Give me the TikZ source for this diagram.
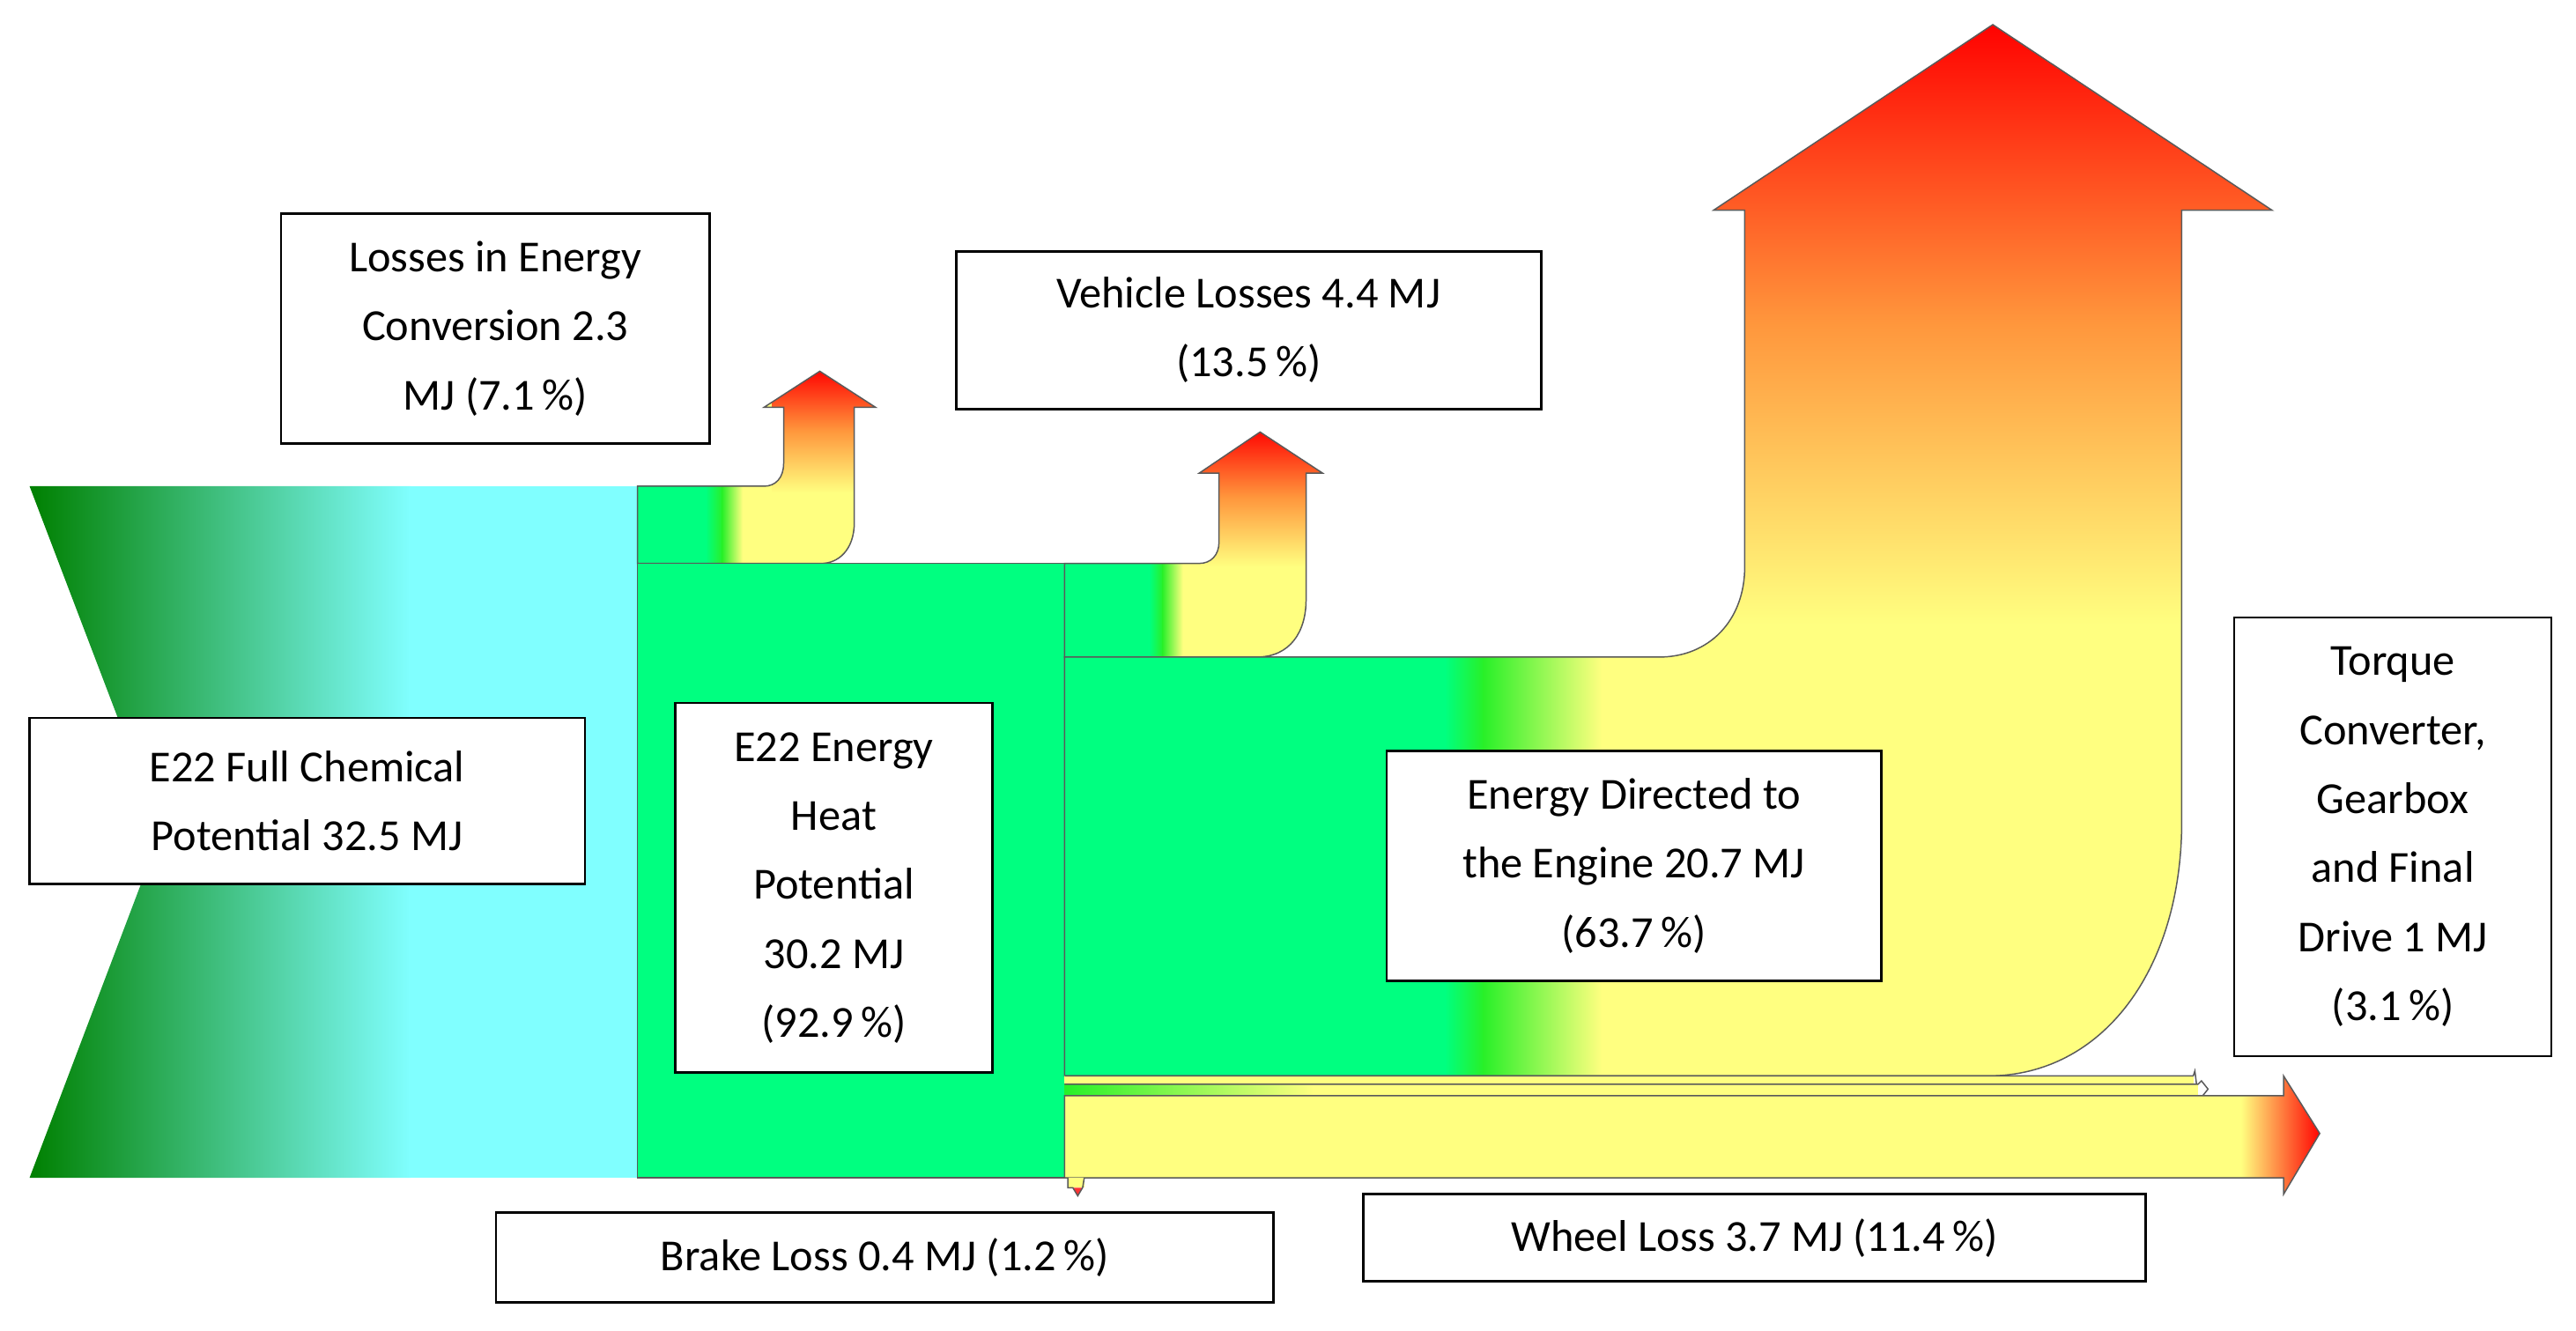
\documentclass[tikz,border=0pt]{standalone}
\usepackage{fontspec}
\setmainfont{Carlito}
\definecolor{dgreen}{RGB}{0,128,0}
\definecolor{cyanf}{RGB}{128,255,255}
\definecolor{mgreen}{RGB}{0,255,128}
\definecolor{lime}{RGB}{40,240,40}
\definecolor{yel}{RGB}{255,255,128}
\definecolor{org}{RGB}{255,150,60}
\definecolor{edge}{RGB}{90,90,90}
\begin{document}
\begin{tikzpicture}[x=1pt,y=-1pt,
  lbl/.style={draw=black,line width=1.4pt,fill=white,align=center,font=\fontsize{27}{42}\selectfont,inner sep=2pt},
  flowedge/.style={draw=edge,line width=0.8pt}]
\useasboundingbox (0,0) rectangle (1568,810);
% input chevron
\shade[left color=dgreen,right color=cyanf] (18,296) -- (250,296) -- (250,717) -- (18,717) -- (98,506) -- cycle;
\fill[cyanf] (249,296) rectangle (388,717);
% arrow 1
\def\aone{(388,296) -- (465,296) .. controls (472,296) and (477,291) .. (477,282) -- (477,248) -- (465,248) -- (499,226) -- (533,248) -- (520,248) -- (520,318) .. controls (520,335) and (510,343) .. (500,343) -- (388,343) -- cycle}
\begin{scope}\clip \aone;
\fill[yel] (380,220) rectangle (540,350);
\fill[mgreen] (380,290) rectangle (430,350);
\shade[left color=mgreen,right color=lime] (429.5,290) rectangle (440,350);
\shade[left color=lime,right color=yel] (439.5,290) rectangle (452,350);
\shade[top color=red,bottom color=yel,middle color=org] (470,224) rectangle (540,300);
\end{scope}
\draw[flowedge] \aone;
% main green box
\fill[mgreen] (388,343) rectangle (648,717);
\draw[flowedge] (388,343) rectangle (648,717);
% arrow 2
\def\atwo{(648,343) -- (730,343) .. controls (737,343) and (742,338) .. (742,330) -- (742,288) -- (730,288) -- (767,263) -- (805,288) -- (795,288) -- (795,365) .. controls (795,385) and (785,400) .. (765,400) -- (648,400) -- cycle}
\begin{scope}\clip \atwo;
\fill[yel] (640,255) rectangle (810,405);
\fill[mgreen] (640,335) rectangle (700,405);
\shade[left color=mgreen,right color=lime] (699.5,335) rectangle (708,405);
\shade[left color=lime,right color=yel] (707.5,335) rectangle (720,405);
\shade[top color=red,bottom color=yel,middle color=org] (725,260) rectangle (810,345);
\end{scope}
\draw[flowedge] \atwo;
% big arrow
\def\abig{(648,400) -- (1010,400) .. controls (1040,400) and (1062,378) .. (1062,345) -- (1062,128) -- (1043,128) -- (1213,15) -- (1383,128) -- (1328,128) -- (1328,500) .. controls (1328,590) and (1280,655) .. (1210,655) -- (648,655) -- cycle}
\begin{scope}\clip \abig;
\fill[yel] (640,10) rectangle (1390,660);
\fill[mgreen] (640,390) rectangle (880,660);
\shade[left color=mgreen,right color=lime] (879.5,390) rectangle (903,660);
\shade[left color=lime,right color=yel] (902.5,390) rectangle (975,660);
\shade[top color=red,bottom color=yel,middle color=org] (1030,12) rectangle (1390,380);
\end{scope}
\draw[flowedge] \abig;
% thin strips
\fill[yel] (648,655) rectangle (1335,660);
\draw[flowedge] (648,655) -- (1335,655) -- (1336,652) -- (1337,660) -- (648,660);
\shade[left color=lime,right color=yel] (648,660) rectangle (800,667);
\fill[yel] (799,660) rectangle (1338,667);
\draw[flowedge] (648,660) -- (1338,660) -- (1340,658) -- (1344,663) -- (1340,668) -- (1338,667) -- (648,667);
% wheel loss arrow
\def\awheel{(648,667) -- (1390,667) -- (1390,655) -- (1412,690) -- (1390,727) -- (1390,717) -- (648,717) -- cycle}
\begin{scope}\clip \awheel;
\fill[yel] (640,650) rectangle (1365,730);
\shade[left color=yel,right color=red] (1364,650) rectangle (1413,730);
\end{scope}
\draw[flowedge] \awheel;
% brake loss
\fill[yel] (650,717) rectangle (660,723);
\fill[red!80] (653,723) -- (659,723) -- (656,728) -- cycle;
\draw[flowedge] (650,717) -- (650,723) -- (653,723) -- (656,728) -- (659,723) -- (660,717);
% labels
\node[lbl,minimum width=261pt,minimum height=140pt] (lconv) at (301.5,200) {Losses in Energy\\Conversion 2.3\\MJ (7.1\,\%)};
\node[lbl,minimum width=356pt,minimum height=96pt] (lveh) at (760,201) {Vehicle Losses 4.4 MJ\\(13.5\,\%)};
\node[lbl,minimum width=338pt,minimum height=101pt] (lchem) at (187,487.5) {E22 Full Chemical\\Potential 32.5 MJ};
\node[lbl,minimum width=193pt,minimum height=225pt] (lheat) at (507.5,540.5) {E22 Energy\\Heat\\Potential\\30.2 MJ\\(92.9\,\%)};
\node[lbl,minimum width=301pt,minimum height=140pt] (leng) at (994.5,527) {Energy Directed to\\the Engine 20.7 MJ\\(63.7\,\%)};
\node[lbl,minimum width=193pt,minimum height=267pt] (ltorq) at (1456.5,509.5) {Torque\\Converter,\\Gearbox\\and Final\\Drive 1 MJ\\(3.1\,\%)};
\node[lbl,minimum width=473pt,minimum height=55pt] (lbrake) at (538.5,765.5) {Brake Loss 0.4 MJ (1.2\,\%)};
\node[lbl,minimum width=476pt,minimum height=53pt] (lwheel) at (1068,753.5) {Wheel Loss 3.7 MJ (11.4\,\%)};
\end{tikzpicture}
\end{document}
